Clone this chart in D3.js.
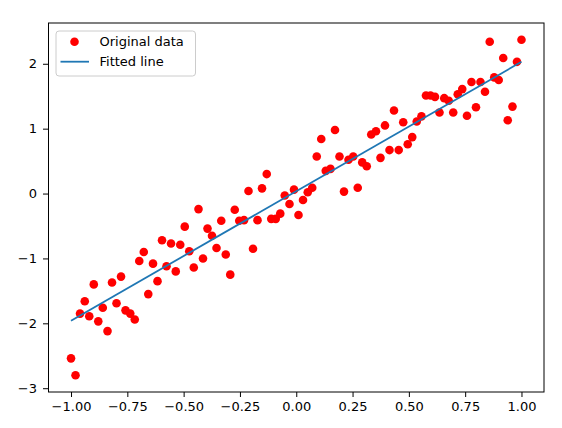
<!DOCTYPE html>
<html>
<head>
<meta charset="utf-8">
<script src="https://cdn.jsdelivr.net/npm/d3@7"></script>
<style>
  html, body { margin: 0; padding: 0; background: #fff; }
  svg { display: block; font-family: 'DejaVu Sans', sans-serif; }
</style>
</head>
<body>
<div id="chart"></div>
<script>
// sample positions along x
const xValues = [
  -1.000, -0.980, -0.960, -0.939, -0.919, -0.899, -0.879, -0.859, -0.838, -0.818,
  -0.798, -0.778, -0.758, -0.737, -0.717, -0.697, -0.677, -0.657, -0.636, -0.616,
  -0.596, -0.576, -0.556, -0.535, -0.515, -0.495, -0.475, -0.455, -0.434, -0.414,
  -0.394, -0.374, -0.354, -0.333, -0.313, -0.293, -0.273, -0.253, -0.232, -0.212,
  -0.192, -0.172, -0.152, -0.131, -0.111, -0.091, -0.071, -0.051, -0.030, -0.010,
  0.010, 0.030, 0.051, 0.071, 0.091, 0.111, 0.131, 0.152, 0.172, 0.192,
  0.212, 0.232, 0.253, 0.273, 0.293, 0.313, 0.333, 0.354, 0.374, 0.394,
  0.414, 0.434, 0.455, 0.475, 0.495, 0.515, 0.535, 0.556, 0.576, 0.596,
  0.616, 0.636, 0.657, 0.677, 0.697, 0.717, 0.737, 0.758, 0.778, 0.798,
  0.818, 0.838, 0.859, 0.879, 0.899, 0.919, 0.939, 0.960, 0.980, 1.000
]

// original data
const yValues = [
  -2.54, -2.80, -1.85, -1.66, -1.89, -1.40, -1.97, -1.76, -2.12, -1.37,
  -1.69, -1.28, -1.80, -1.85, -1.94, -1.04, -0.90, -1.55, -1.08, -1.35,
  -0.72, -1.12, -0.77, -1.20, -0.79, -0.51, -0.89, -1.14, -0.24, -1.00,
  -0.54, -0.65, -0.84, -0.42, -0.94, -1.25, -0.25, -0.42, -0.41, 0.04,
  -0.85, -0.41, 0.08, 0.30, -0.39, -0.39, -0.31, -0.03, -0.16, 0.06,
  -0.33, -0.10, 0.02, 0.09, 0.57, 0.84, 0.35, 0.38, 0.98, 0.57,
  0.03, 0.52, 0.57, 0.09, 0.48, 0.42, 0.91, 0.96, 0.55, 1.05,
  0.67, 1.28, 0.67, 1.10, 0.76, 0.87, 1.11, 1.19, 1.51, 1.51,
  1.49, 1.25, 1.47, 1.43, 1.25, 1.53, 1.61, 1.20, 1.72, 1.33,
  1.72, 1.57, 2.34, 1.79, 1.75, 2.09, 1.13, 1.34, 2.03, 2.37
]

// fitted line end points
const fitX = [-1, 1]
const fitY = [-1.96, 2.03]

const xTicks = [-1.0, -0.75, -0.5, -0.25, 0, 0.25, 0.5, 0.75, 1.0]
const yTicks = [-3, -2, -1, 0, 1, 2]
const legendLabels = ['Original data', 'Fitted line']

const width = 562
const height = 428
const margin = { top: 23, left: 48.5, right: 18, bottom: 36 }
const innerW = width - margin.left - margin.right
const innerH = height - margin.top - margin.bottom

const svg = d3
  .select('#chart')
  .append('svg')
  .attr('width', width)
  .attr('height', height)

const g = svg
  .append('g')
  .attr('transform', 'translate(' + margin.left + ',' + margin.top + ')')

// matplotlib-style 5% margins
function padded(ext) {
  const pad = (ext[1] - ext[0]) * 0.05
  return [ext[0] - pad, ext[1] + pad]
}

const xScale = d3.scaleLinear()
  .domain(padded(d3.extent(xValues)))
  .range([0, innerW])
const yScale = d3.scaleLinear()
  .domain(padded(d3.extent(yValues)))
  .range([innerH, 0])

const minus = s => s.replace('-', '\u2212')

// axes
const xAxis = g.append('g')
  .attr('transform', 'translate(0,' + innerH + ')')
  .call(d3.axisBottom(xScale)
    .tickValues(xTicks)
    .tickSize(5)
    .tickPadding(4.5)
    .tickFormat(d => minus(d3.format('.2f')(d))))

const yAxis = g.append('g')
  .call(d3.axisLeft(yScale)
    .tickValues(yTicks)
    .tickSize(5.5)
    .tickPadding(6)
    .tickFormat(d => minus(d3.format('d')(d))))

for (const ax of [xAxis, yAxis]) {
  ax.select('.domain').remove()
  ax.selectAll('line').attr('stroke', '#000').attr('stroke-width', 1)
  ax.selectAll('text')
    .attr('fill', '#000')
    .style('font-family', "'DejaVu Sans', sans-serif")
    .style('font-size', '13px')
}

// fitted line
const line = d3.line()
  .x(d => xScale(d[0]))
  .y(d => yScale(d[1]))

// points
g.selectAll('.pt')
  .data(xValues.map((x, i) => [x, yValues[i]]))
  .enter()
  .append('circle')
  .attr('class', 'pt')
  .attr('cx', d => xScale(d[0]))
  .attr('cy', d => yScale(d[1]))
  .attr('r', 4.3)
  .attr('fill', '#ff0000')

g.append('path')
  .datum(fitX.map((x, i) => [x, fitY[i]]))
  .attr('d', line)
  .attr('fill', 'none')
  .attr('stroke', '#1f77b4')
  .attr('stroke-width', 1.8)

// frame
g.append('rect')
  .attr('width', innerW)
  .attr('height', innerH)
  .attr('fill', 'none')
  .attr('stroke', '#000')
  .attr('stroke-width', 1)

// legend
const legend = svg.append('g').attr('transform', 'translate(56,31)')
legend.append('rect')
  .attr('width', 139.5)
  .attr('height', 45)
  .attr('rx', 3)
  .attr('fill', 'rgba(255,255,255,0.8)')
  .attr('stroke', '#cccccc')
  .attr('stroke-width', 1)

legend.append('circle')
  .attr('cx', 18.5)
  .attr('cy', 10.7)
  .attr('r', 4.3)
  .attr('fill', '#ff0000')

legend.append('line')
  .attr('x1', 4.5)
  .attr('x2', 33)
  .attr('y1', 30.7)
  .attr('y2', 30.7)
  .attr('stroke', '#1f77b4')
  .attr('stroke-width', 1.8)

legend.selectAll('.lab')
  .data(legendLabels)
  .enter()
  .append('text')
  .attr('class', 'lab')
  .attr('x', 43.5)
  .attr('y', (d, i) => 10.7 + i * 20)
  .attr('dy', '0.35em')
  .style('font-size', '13px')
  .text(d => d)
</script>
</body>
</html>
